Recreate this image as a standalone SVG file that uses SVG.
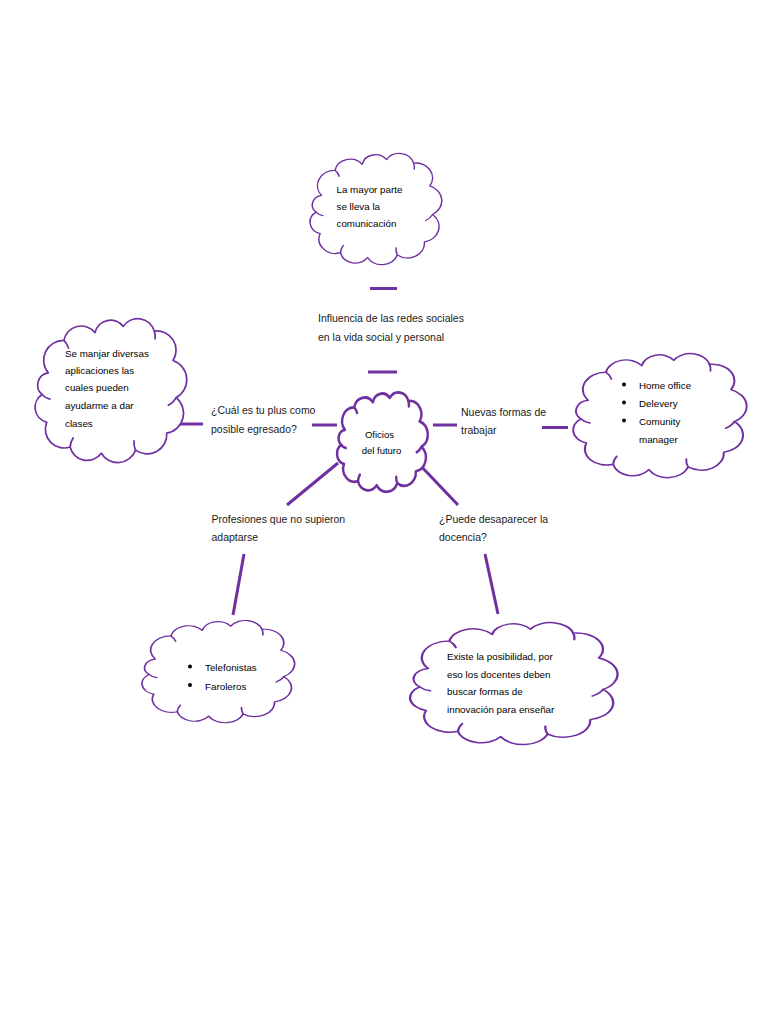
<svg xmlns="http://www.w3.org/2000/svg" xmlns:xlink="http://www.w3.org/1999/xlink" width="768" height="1024" viewBox="0 0 768 1024">
<style>
.bg{fill:#ffffff}
.cloud{fill:#ffffff;stroke:#7030A0;stroke-width:1.1;vector-effect:non-scaling-stroke;stroke-linejoin:round}
.curl{fill:none;stroke:#7030A0;stroke-width:1.1;vector-effect:non-scaling-stroke;stroke-linecap:round}
.cloud.main{stroke-width:2.6}
.curl.main{stroke-width:2.6}
.conn{stroke:#7030A0;stroke-width:3;fill:none}
.lbl{font-family:"Liberation Sans",Arial,sans-serif;font-size:10.5px;fill:#1a1a1a}
.ctxt{font-family:"Liberation Sans",Arial,sans-serif;font-size:9.8px;fill:#000000}
.dot{fill:#000000}
</style>
<defs>
<path id="cloudShape" d="M 10 36 A 12.8 12.8 0 0 1 20 15 A 11.3 11.3 0 0 1 40 10 A 10.1 10.1 0 0 1 58 6 A 11.1 11.1 0 0 1 78 9 A 12.4 12.4 0 0 1 90 28 A 13.2 13.2 0 0 1 92 52 A 13.1 13.1 0 0 1 86 75 A 12.6 12.6 0 0 1 66 86 A 12.2 12.2 0 0 1 44 88 A 11.2 11.2 0 0 1 24 84 A 12.1 12.1 0 0 1 9 68 A 10 10 0 0 1 6 50 A 8 8 0 0 1 10 36 Z"/>
<path id="cloudCurl" d="M 20 15 A 11 11 0 0 1 23 20 M 78 9 A 11 11 0 0 1 78.5 14 M 92 52 A 12 12 0 0 1 87 57 M 66 86 A 12 12 0 0 1 65 80 M 24 84 A 12 12 0 0 1 26 78 M 6 50 A 9 9 0 0 0 11 53"/>
</defs>
<rect class="bg" x="0" y="0" width="768" height="1024"/>

<g id="connectors">
<line class="conn" x1="370" y1="288.5" x2="397" y2="288.5"/>
<line class="conn" x1="368" y1="372" x2="397" y2="372"/>
<line class="conn" x1="178" y1="424" x2="203" y2="424"/>
<line class="conn" x1="312" y1="425" x2="337" y2="425"/>
<line class="conn" x1="433" y1="425" x2="457" y2="425"/>
<line class="conn" x1="542" y1="427.5" x2="568" y2="427.5"/>
<line class="conn" x1="338" y1="463" x2="287" y2="505"/>
<line class="conn" x1="418" y1="463" x2="458" y2="505"/>
<line class="conn" x1="244" y1="554" x2="233" y2="615"/>
<line class="conn" x1="485" y1="554" x2="498" y2="614"/>
</g>

<g id="node-comunicacion">
<g transform="translate(308 152.4) scale(1.354 1.194)">
<use xlink:href="#cloudShape" href="#cloudShape" class="cloud"/>
<use xlink:href="#cloudCurl" href="#cloudCurl" class="curl"/>
</g>
<text class="ctxt" x="336.5" y="193">La mayor parte</text>
<text class="ctxt" x="336.5" y="210">se lleva la</text>
<text class="ctxt" x="336.5" y="227">comunicación</text>
</g>

<g id="label-influencia">
<text class="lbl" x="318" y="322">Influencia de las redes sociales</text>
<text class="lbl" x="318" y="341">en la vida social y personal</text>
</g>

<g id="node-oficios">
<g transform="translate(335.6 391.5) scale(0.933 1.066)">
<use xlink:href="#cloudShape" href="#cloudShape" class="cloud main"/>
<use xlink:href="#cloudCurl" href="#cloudCurl" class="curl main"/>
</g>
<text class="ctxt" x="379.5" y="437.5" text-anchor="middle" style="font-size:9.5px">Oficios</text>
<text class="ctxt" x="381.5" y="454" text-anchor="middle" style="font-size:9.5px">del futuro</text>
</g>

<g id="node-aplicaciones">
<g transform="translate(32.7 317.2) scale(1.559 1.546)">
<use xlink:href="#cloudShape" href="#cloudShape" class="cloud"/>
<use xlink:href="#cloudCurl" href="#cloudCurl" class="curl"/>
</g>
<text class="ctxt" x="65" y="356.5">Se manjar diversas</text>
<text class="ctxt" x="65" y="374">aplicaciones las</text>
<text class="ctxt" x="65" y="391">cuales pueden</text>
<text class="ctxt" x="65" y="409">ayudarme a dar</text>
<text class="ctxt" x="65" y="426.5">clases</text>
</g>

<g id="label-plus">
<text class="lbl" x="211" y="414">¿Cuál es tu plus como</text>
<text class="lbl" x="211" y="433">posible egresado?</text>
</g>

<g id="label-nuevas">
<text class="lbl" x="461" y="415.5">Nuevas formas de</text>
<text class="lbl" x="461" y="434">trabajar</text>
</g>

<g id="node-trabajos">
<g transform="translate(570.3 352.3) scale(1.785 1.333)">
<use xlink:href="#cloudShape" href="#cloudShape" class="cloud"/>
<use xlink:href="#cloudCurl" href="#cloudCurl" class="curl"/>
</g>
<circle class="dot" cx="624" cy="384.5" r="2"/>
<circle class="dot" cx="624" cy="402.5" r="2"/>
<circle class="dot" cx="624" cy="420.5" r="2"/>
<text class="ctxt" x="639" y="388.5">Home office</text>
<text class="ctxt" x="639" y="406.5">Delevery</text>
<text class="ctxt" x="639" y="425">Comunity</text>
<text class="ctxt" x="639" y="442.5">manager</text>
</g>

<g id="label-profesiones">
<text class="lbl" x="211.5" y="522.5">Profesiones que no supieron</text>
<text class="lbl" x="211.5" y="541">adaptarse</text>
</g>

<g id="label-docencia">
<text class="lbl" x="439" y="522.5">¿Puede desaparecer la</text>
<text class="lbl" x="439" y="541">docencia?</text>
</g>

<g id="node-profesiones">
<g transform="translate(139.6 619.5) scale(1.569 1.098)">
<use xlink:href="#cloudShape" href="#cloudShape" class="cloud"/>
<use xlink:href="#cloudCurl" href="#cloudCurl" class="curl"/>
</g>
<circle class="dot" cx="190" cy="666.5" r="2"/>
<circle class="dot" cx="190" cy="685" r="2"/>
<text class="ctxt" x="205" y="670.5">Telefonistas</text>
<text class="ctxt" x="205" y="689.5">Faroleros</text>
</g>

<g id="node-innovacion">
<g transform="translate(406.8 621.3) scale(2.133 1.311)">
<use xlink:href="#cloudShape" href="#cloudShape" class="cloud"/>
<use xlink:href="#cloudCurl" href="#cloudCurl" class="curl"/>
</g>
<text class="ctxt" x="447" y="660">Existe la posibilidad, por</text>
<text class="ctxt" x="447" y="678">eso los docentes deben</text>
<text class="ctxt" x="447" y="695">buscar formas de</text>
<text class="ctxt" x="447" y="712.5">innovación para enseñar</text>
</g>
</svg>
